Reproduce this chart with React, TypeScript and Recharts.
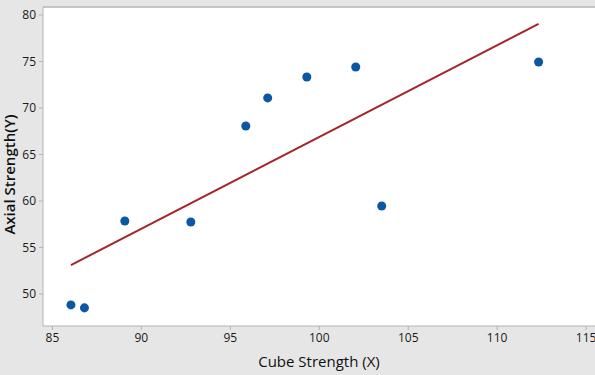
import { ScatterChart, Scatter, XAxis, YAxis, CartesianGrid, ReferenceLine } from "recharts";

// cube strength (X) and axial strength (Y) for each specimen
const cubeStrength = [86.04, 86.8, 89.07, 92.78, 95.87, 97.1, 99.3, 102.05, 103.51, 112.33];
const axialStrength = [48.82, 48.5, 57.85, 57.74, 68.06, 71.08, 73.33, 74.4, 59.46, 74.95];

// fitted line end points
const fitX = [86.04, 112.33];
const fitY = [53.1, 79.05];

const xTicks = [85, 90, 95, 100, 105, 110, 115];
const yTicks = [50, 55, 60, 65, 70, 75, 80];

const points = cubeStrength.map((x, i) => ({ x, y: axialStrength[i] }));
const fit = fitX.map((x, i) => ({ x, y: fitY[i] }));

const FONT = "'Open Sans', 'Noto Sans', sans-serif";
const AXIS = "#b4b4b4";
const tickStyle = { fontSize: 12, fill: "#1a1a1a", fontFamily: FONT };

const App = () => (
  <div style={{ position: "fixed", left: 0, top: 0, width: 595, height: 375, background: "#e6e6e6" }}>
    <ScatterChart width={595} height={375} margin={{ top: 7, right: 0, bottom: 0, left: 0 }}>
      <CartesianGrid fill="#ffffff" horizontal={false} vertical={false} />
      <XAxis
        type="number"
        dataKey="x"
        domain={[84.47, 115.5]}
        ticks={xTicks}
        height={49}
        allowDataOverflow
        stroke={AXIS}
        tickSize={4}
        tickMargin={3}
        tick={tickStyle}
        label={{
          value: "Cube Strength (X)",
          position: "insideBottom",
          offset: 8,
          style: { fontSize: 15, fill: "#111", fontFamily: FONT },
        }}
      />
      <YAxis
        type="number"
        dataKey="y"
        domain={[46.55, 80.86]}
        ticks={yTicks}
        width={43}
        allowDataOverflow
        stroke={AXIS}
        tickSize={4}
        tickMargin={3}
        tick={tickStyle}
        label={{
          value: "Axial Strength(Y)",
          angle: -90,
          position: "insideLeft",
          offset: 10,
          dy: 8,
          style: { fontSize: 15, fontWeight: 600, fill: "#111", fontFamily: FONT, textAnchor: "middle" },
        }}
      />
      <ReferenceLine y={80.86} stroke={AXIS} strokeWidth={1.5} />
      <Scatter
        data={fit}
        line={{ stroke: "#a4262c", strokeWidth: 2 }}
        shape={() => null}
        isAnimationActive={false}
      />
      <Scatter data={points} fill="#0b57a4" shape="circle" isAnimationActive={false}>
      </Scatter>
    </ScatterChart>
  </div>
);

export default App;
